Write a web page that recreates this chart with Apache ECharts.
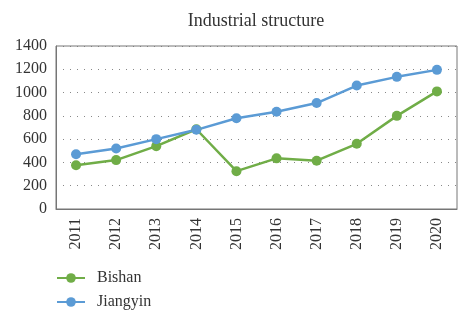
<!DOCTYPE html>
<html><head><meta charset="utf-8">
<script src="https://cdn.jsdelivr.net/npm/echarts@6/dist/echarts.min.js"></script>
<style>html,body{margin:0;padding:0;background:#fff;}#c{width:474px;height:327px;}</style>
</head><body><div id="c"></div>
<script>
const years = ['2011','2012','2013','2014','2015','2016','2017','2018','2019','2020'];
const bishan = [375, 420, 540, 685, 325, 435, 415, 560, 800, 1010];
const jiangyin = [470, 520, 600, 680, 780, 835, 910, 1060, 1135, 1195];
const titleText = 'Industrial structure';
const font = '"Liberation Serif", "DejaVu Serif", serif';
const chart = echarts.init(document.getElementById('c'));
chart.setOption({
  animation: false,
  title: { text: titleText, left: 251, top: 7, textAlign: 'center',
    textStyle: { fontFamily: font, fontSize: 18, fontWeight: 'normal', color: '#333' } },
  grid: { left: 56, right: 17, top: 46, bottom: 118, containLabel: false },
  legend: {
    orient: 'vertical', left: 56, top: 270, padding: 0, itemGap: 8, itemWidth: 28, itemHeight: 12,
    textStyle: { fontFamily: font, fontSize: 16, color: '#333', padding: [0, 0, 0, 7] },
    data: ['Bishan', 'Jiangyin']
  },
  xAxis: {
    type: 'category', data: years, boundaryGap: true,
    axisLine: { show: true, lineStyle: { color: '#777', width: 1 } },
    axisTick: { show: false },
    axisLabel: { rotate: 90, fontFamily: font, fontSize: 16, color: '#333', margin: 9 }
  },
  yAxis: {
    type: 'value', min: 0, max: 1400, interval: 200,
    axisLine: { show: true, lineStyle: { color: '#777', width: 1 } },
    axisTick: { show: false },
    axisLabel: { fontFamily: font, fontSize: 16, color: '#333', margin: 9, formatter: v => String(v) },
    splitLine: { show: true, lineStyle: { type: [1, 6], color: '#888', width: 1 } }
  },
  series: [
    { name: 'Bishan', type: 'line', data: bishan, symbol: 'circle', symbolSize: 10,
      lineStyle: { width: 2.5, color: '#70ad47' }, itemStyle: { color: '#70ad47' } },
    { name: 'Jiangyin', type: 'line', data: jiangyin, symbol: 'circle', symbolSize: 10,
      lineStyle: { width: 2.5, color: '#5b9bd5' }, itemStyle: { color: '#5b9bd5' } }
  ],
  graphic: [{ type: 'rect', shape: { x: 56, y: 46, width: 401, height: 163 },
    style: { fill: 'none', stroke: '#777', lineWidth: 1 }, silent: true, z: 10 }]
});
</script></body></html>
